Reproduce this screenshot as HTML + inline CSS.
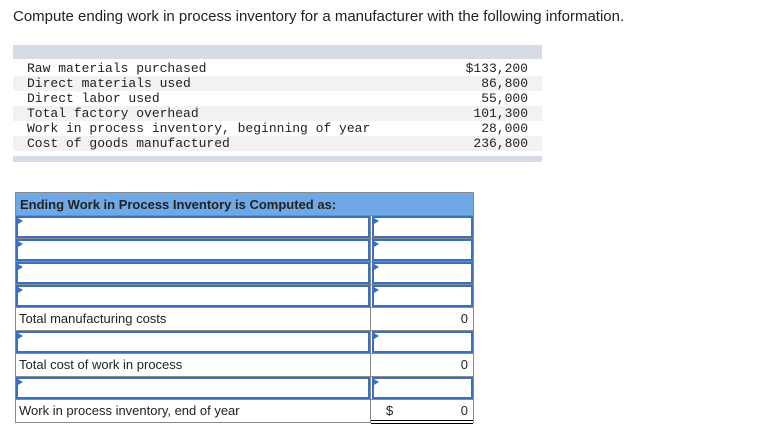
<!DOCTYPE html>
<html><head><meta charset="utf-8"><style>
body{margin:0;width:762px;height:438px;background:#fff;position:relative;overflow:hidden;font-family:"Liberation Sans",sans-serif;}
.a{position:absolute;box-sizing:border-box;}
.mono{font-family:"Liberation Mono",monospace;font-size:13px;color:#222;line-height:15px;}
.cell{position:absolute;box-sizing:border-box;border:1px solid #8a8a8a;}
.inp{position:absolute;box-sizing:border-box;border:2px solid #3b70c0;background:#fff;}
.tri{position:absolute;left:0;top:0;width:0;height:0;border-top:3px solid transparent;border-bottom:3px solid transparent;border-left:5px solid #3b70c0;}
.lbl{font-size:13px;color:#222;}
</style></head><body>
<div class="a" style="left:13px;top:8px;font-size:15px;color:#222;">Compute ending work in process inventory for a manufacturer with the following information.</div>

<div class="a" style="left:13px;top:45px;width:529px;height:14px;background:#d6dbe8;"></div>
<div class="a" style="left:13px;top:76px;width:529px;height:15px;background:#f2f2f2;"></div>
<div class="a" style="left:13px;top:106px;width:529px;height:15px;background:#f2f2f2;"></div>
<div class="a" style="left:13px;top:136px;width:529px;height:15px;background:#f2f2f2;"></div>
<div class="a mono" style="left:27px;top:61px;white-space:pre;">Raw materials purchased
Direct materials used
Direct labor used
Total factory overhead
Work in process inventory, beginning of year
Cost of goods manufactured</div>
<div class="a mono" style="left:428px;top:61px;width:100px;text-align:right;white-space:pre;">$133,200
86,800
55,000
101,300
28,000
236,800</div>
<div class="a" style="left:13px;top:156px;width:529px;height:6px;background:#d6dbe8;"></div>

<div class="a" style="left:15px;top:192px;width:459px;height:231px;border:1px solid #8a8a8a;">
</div>
<div class="a" style="left:15px;top:192px;width:459px;height:24px;background:#6ea8e6;border:1px solid #8a8a8a;font-size:13px;font-weight:bold;color:#222;padding:4px 0 0 4px;">Ending Work in Process Inventory is Computed as:</div>

<div id="rows"></div>
<script>
const rowTops=[215,238,261,284,307,330,353,376,399];
const rowKinds=['in','in','in','in','total','in','total','in','final'];
const rowLabels=['','','','','Total manufacturing costs','','Total cost of work in process','','Work in process inventory, end of year'];
const rowValues=['','','','','0','','0','','0'];
const root=document.getElementById('rows');
rowTops.forEach((t,i)=>{
  const k=rowKinds[i];
  const L=document.createElement('div');L.className='cell';
  L.style.cssText+=`left:15px;top:${t}px;width:356px;height:24px;`;
  
  
  const R=document.createElement('div');R.className='cell';
  R.style.cssText+=`left:370px;top:${t}px;width:104px;height:24px;`;
  
  
  root.appendChild(L);root.appendChild(R);
  if(k==='in'){
    const a=document.createElement('div');a.className='inp';
    a.style.cssText+=`left:16px;top:${t+1}px;width:354px;height:22px;`;
    a.innerHTML='<div class="tri"></div>';
    
    
    const b=document.createElement('div');b.className='inp';
    b.style.cssText+=`left:372px;top:${t+1}px;width:101px;height:22px;`;
    b.innerHTML='<div class="tri"></div>';
    
    
    root.appendChild(a);root.appendChild(b);
  } else {
    const tx=document.createElement('div');tx.className='a lbl';
    tx.style.cssText+=`left:19px;top:${t+4}px;`;
    tx.textContent=rowLabels[i];
    
    
    const v=document.createElement('div');v.className='a lbl';
    v.style.cssText+=`left:372px;top:${t+4}px;width:96px;text-align:right;`;
    v.textContent=rowValues[i];
    
    
    root.appendChild(tx);root.appendChild(v);
    if(k==='final'){
      const d=document.createElement('div');d.className='a lbl';
      d.style.cssText+=`left:386px;top:${t+4}px;`;
      d.textContent='$';
      
      
      const u=document.createElement('div');u.className='a';
      u.style.cssText+=`left:371px;top:${t+21}px;width:102px;height:4px;border-top:1px solid #000;border-bottom:1px solid #000;background:#fff;`;
      
      
      root.appendChild(d);root.appendChild(u);
    }
  }
});
</script>
</body></html>
